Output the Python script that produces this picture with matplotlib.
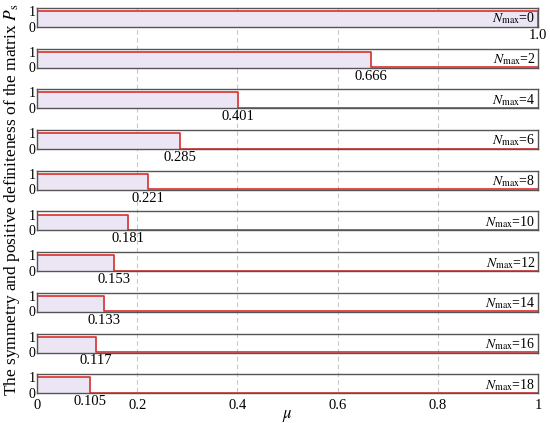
import matplotlib
matplotlib.use("Agg")
import matplotlib.pyplot as plt

nmax = [0, 2, 4, 6, 8, 10, 12, 14, 16, 18]
mu_crit = [1.0, 0.666, 0.401, 0.285, 0.221, 0.181, 0.153, 0.133, 0.117, 0.105]
labels = ["1.0", "0.666", "0.401", "0.285", "0.221", "0.181", "0.153", "0.133", "0.117", "0.105"]
xticks = [0, 0.2, 0.4, 0.6, 0.8, 1]
xticklabels = ["0", "0.2", "0.4", "0.6", "0.8", "1"]

plt.rcParams['font.family'] = ['Liberation Serif', 'DejaVu Serif']
plt.rcParams['mathtext.fontset'] = 'stix'
W, H = 550, 423
fig = plt.figure(figsize=(5.5, 4.23), dpi=100)
L, R = 37 / W, 538 / W
top0, step, h = 8, 40.7, 19

bg = fig.add_axes([L, (H - 392) / H, R - L, (392 - 8) / H])
bg.set_xlim(0, 1); bg.set_ylim(0, 1); bg.axis('off')
for x in xticks[1:-1]:
    bg.axvline(x, color='#c8c8c8', ls=(0, (4, 3)), lw=0.8, zorder=0)

for i, (n, m, lab) in enumerate(zip(nmax, mu_crit, labels)):
    t = top0 + i * step
    ax = fig.add_axes([L, (H - t - h) / H, R - L, h / H])
    ax.patch.set_alpha(0)
    ax.set_xlim(0, 1); ax.set_ylim(-0.03, 1.2)
    ax.fill_between([0, m], [1, 1], 0, color='#ece6f4', zorder=1)
    ax.plot([0, m, m, 1], [1, 1, 0, 0], color='#d9302c', lw=1.2, zorder=2)
    ax.set_yticks([0, 1]); ax.set_yticklabels(['0', '1'], fontsize=10)
    ax.tick_params(axis='y', length=0, pad=1)
    for s in ax.spines.values():
        s.set_color('#555555'); s.set_linewidth(1.0)
    ax.text(0.995, 0.45, r'$N_{\rm max}$=%d' % n, transform=ax.transAxes,
            ha='right', va='center', fontsize=10)
    ax.text(m, -0.15, lab, ha='center', va='top', fontsize=10.5, clip_on=False)
    if i < len(nmax) - 1:
        ax.set_xticks([])
    else:
        ax.set_xticks(xticks); ax.set_xticklabels(xticklabels, fontsize=10.5)
        ax.tick_params(axis='x', length=0, pad=4)
        ax.set_xlabel(r'$\mu$', fontsize=12, labelpad=-3)

fig.text(0.022, (H - 200) / H, 'The symmetry and positive definiteness of the matrix $P_{\\rm s}$',
         rotation=90, ha='center', va='center', fontsize=12.5)
fig.savefig('out.png', dpi=100)
